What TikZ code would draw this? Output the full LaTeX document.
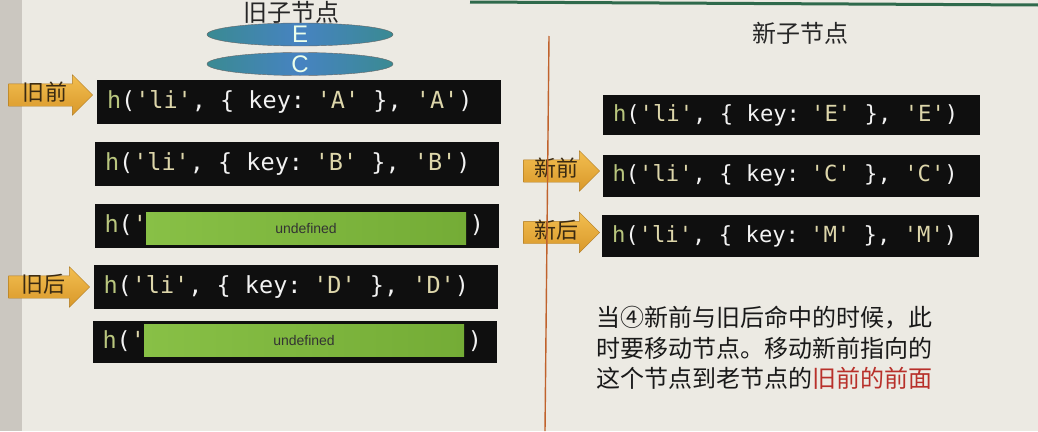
\documentclass[tikz,border=0pt]{standalone}
\usepackage{fontspec}
\setmainfont{Liberation Sans}
\setmonofont{DejaVu Sans Mono}
\newfontfamily\cjk{Noto Sans CJK SC}
\usetikzlibrary{shapes.geometric,shapes.arrows}
\definecolor{bgcol}{HTML}{ECEAE3}
\definecolor{stripcol}{HTML}{CBC7C0}
\definecolor{hcol}{HTML}{B9C67E}
\definecolor{strcol}{HTML}{DDD6AA}
\definecolor{codewhite}{HTML}{F2F2F2}
\definecolor{limeA}{HTML}{88C046}
\definecolor{limeB}{HTML}{74AC36}
\definecolor{ellteal}{HTML}{3A8A92}
\definecolor{ellblue}{HTML}{4C80D6}
\definecolor{ptrA}{HTML}{F2BE50}
\definecolor{ptrB}{HTML}{D9982A}
\definecolor{ptrtext}{HTML}{3A2A12}
\definecolor{divcol}{HTML}{C0622C}
\definecolor{topgreen}{HTML}{2F6A4C}
\definecolor{redtxt}{HTML}{B8302A}
\newcommand\hcall[1]{\spaceskip=0.602em\relax\textcolor{hcol}{h}(\textcolor{strcol}{'li'}, \{ key: \textcolor{strcol}{'#1'} \}, \textcolor{strcol}{'#1'})}
\newcommand\hcut[1]{\spaceskip=0.602em\relax\textcolor{hcol}{h}(\textcolor{strcol}{'}\phantom{li', \{ key: '#1' \}, '#1'})}
\begin{document}
\begin{tikzpicture}[x=1pt,y=-1pt,
    oldcode/.style={fill=black!94, text=codewhite, inner xsep=10pt, inner ysep=0pt,
      text width=384pt, align=left, minimum height=44pt, font=\ttfamily\fontsize{23.5}{26}\selectfont},
    newcode/.style={oldcode, text width=357pt, minimum height=42pt, font=\ttfamily\fontsize{22.2}{24}\selectfont},
    undefbar/.style={left color=limeA, right color=limeB, minimum width=320pt, minimum height=32pt,
      inner sep=0pt, text=black!80, font=\fontsize{14}{14}\selectfont},
    ellnode/.style={ellipse, draw=black!60, thin, left color=ellteal, right color=ellteal,
      middle color=ellblue!70!ellteal, minimum width=186pt, minimum height=23pt, inner sep=0pt},
    elltext/.style={text=green!8!white, font=\fontsize{24}{24}\selectfont},
    ptr/.style={single arrow, single arrow head extend=9pt, draw=ptrB!80!black, thin,
      top color=ptrA, bottom color=ptrB, minimum height=84pt, inner xsep=2pt, inner ysep=1.5pt,
      text height=15pt, text depth=4pt, text=ptrtext, font=\cjk\fontsize{22}{22}\selectfont},
    title/.style={font=\cjk\fontsize{24}{24}\selectfont, text=black!85},
    desc/.style={align=left, inner sep=0pt, text=black!90, font=\cjk\fontsize{24}{30.5}\selectfont}]
% background
\fill[bgcol] (0,0) rectangle (1038,431);
\fill[stripcol] (0,0) rectangle (22,431);
\useasboundingbox (0,0) rectangle (1038,431);
\draw[topgreen, line width=3pt] (470,2) -- (1038,5);
% titles
\node[title] (oldtitle) at (291,12) {旧子节点};
\node[title] (newtitle) at (800,33.5) {新子节点};
% unprocessed new nodes
\node[ellnode, label={[elltext]center:E}] (ellE) at (300,34.5) {};
\node[ellnode, label={[elltext]center:C}] (ellC) at (300,64) {};
% old children
\node[oldcode] (oA) at (299,102) {\hcall{A}};
\node[oldcode] (oB) at (297,164) {\hcall{B}};
\node[oldcode] (oC) at (296.5,226) {\hcut{C})};
\node[oldcode] (oD) at (295.5,287) {\hcall{D}};
\node[oldcode, minimum height=42pt] (oE) at (294.5,342) {\hcut{E})};
\node[undefbar] (uC) at (306,228) {undefined};
\node[undefbar] (uE) at (304,340.5) {undefined};
% new children
\node[newcode, minimum height=40pt] (nE) at (791.5,115) {\hcall{E}};
\node[newcode] (nC) at (791,175.5) {\hcall{C}};
\node[newcode] (nM) at (790.5,236) {\hcall{M}};
% pointers
\node[ptr] (oldS) at (45,95) {旧前};
\node[ptr, minimum height=81pt] (oldE) at (43.5,287) {旧后};
\node[ptr, minimum height=76pt] (newS) at (556,171) {新前};
\node[ptr, minimum height=76pt] (newE) at (556,232.5) {新后};
% divider
\coordinate (dtop) at (549,36);
\coordinate (dbot) at (545,431);
\draw[divcol, line width=1.4pt] (dtop) -- (dbot);
% note
\node[desc, anchor=west] (note) at (596,348)
  {当④新前与旧后命中的时候，此\\时要移动节点。移动新前指向的\\这个节点到老节点的\textcolor{redtxt}{旧前的前面}};
\end{tikzpicture}
\end{document}
